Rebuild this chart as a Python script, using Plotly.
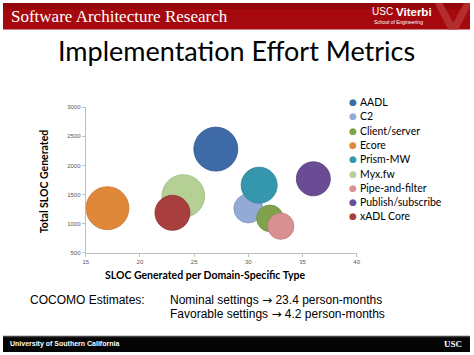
import plotly.graph_objects as go

W, H = 474, 355

series_names = ["AADL", "C2", "Client/server", "Ecore", "Prism-MW", "Myx.fw",
                "Pipe-and-filter", "Publish/subscribe", "xADL Core"]
sloc_per_type = [27, 30, 32, 17, 31, 24, 33, 36, 23]
total_sloc = [2280, 1260, 1090, 1265, 1660, 1475, 955, 1770, 1185]
bubble_size = [194, 84, 71, 185, 130, 182, 69, 116, 123]
colors = ["#3E6BA8", "#93AAD5", "#7FA24A", "#E0883A", "#3597AE", "#B5D095",
          "#D99092", "#6A4C95", "#A83E3E"]
line_colors = ["#335A8E", "#7F95BE", "#6C8C3D", "#C67530", "#2B8197", "#9DB87E",
               "#C27C7E", "#573D7D", "#8F3333"]

x_ticks = [15, 20, 25, 30, 35, 40]
y_ticks = [500, 1000, 1500, 2000, 2500, 3000]

def px(x):
    return x / W

def py(y):
    return 1 - y / H

fig = go.Figure()
max_d = 44
sizeref = 2.0 * max(bubble_size) / (max_d ** 2)
for i, name in enumerate(series_names):
    fig.add_trace(go.Scatter(
        x=[sloc_per_type[i]], y=[total_sloc[i]], mode="markers", name=name,
        marker=dict(size=[bubble_size[i]], sizemode="area", sizeref=sizeref,
                    color=colors[i], opacity=1,
                    line=dict(color=line_colors[i], width=0.8)),
        showlegend=False, hoverinfo="skip"))

tickfont = dict(family="Liberation Sans", size=6, color="#595959")
fig.update_layout(
    width=W, height=H, margin=dict(l=0, r=0, t=0, b=0),
    paper_bgcolor="white", plot_bgcolor="white",
    xaxis=dict(domain=[px(84), px(359)], range=[15, 40], tickvals=x_ticks,
               showgrid=False, zeroline=False, showline=True, linecolor="#BFBFBF",
               linewidth=1, ticks="outside", ticklen=3, tickcolor="#BFBFBF",
               tickfont=tickfont, anchor="y"),
    yaxis=dict(domain=[py(254), py(106)], range=[500, 3000], tickvals=y_ticks,
               showgrid=False, zeroline=False, showline=True, linecolor="#BFBFBF",
               linewidth=1, ticks="outside", ticklen=3, tickcolor="#BFBFBF",
               tickfont=tickfont, anchor="x"),
)

shapes = []
# header band
shapes.append(dict(type="rect", xref="paper", yref="paper", x0=0, x1=1, y0=py(27), y1=1,
                   fillcolor="#A5090E", line=dict(width=0), layer="below"))
shapes.append(dict(type="rect", xref="paper", yref="paper", x0=0, x1=1, y0=py(6), y1=1,
                   fillcolor="#930609", line=dict(width=0), layer="below"))
shapes.append(dict(type="path", xref="paper", yref="paper",
                   path=f"M {px(438)} {py(0)} L {px(452)} {py(27)} L {px(462)} {py(27)} L {px(474)} {py(4)} L {px(474)} {py(0)} L {px(468)} {py(0)} L {px(457)} {py(20)} L {px(446)} {py(0)} Z",
                   fillcolor="#B32C2E", line=dict(width=0), layer="below"))
# footer band
shapes.append(dict(type="rect", xref="paper", yref="paper", x0=0, x1=1, y0=0, y1=py(339),
                   fillcolor="#050505", line=dict(width=0), layer="below"))
shapes.append(dict(type="rect", xref="paper", yref="paper", x0=0, x1=1, y0=py(340), y1=py(338.5),
                   fillcolor="#444444", line=dict(width=0), layer="below"))

annotations = []
def ann(text, x, y, size, color="black", family="Lato", xanchor="left", yanchor="middle", textangle=0):
    annotations.append(dict(text=text, x=px(x), y=py(y), xref="paper", yref="paper",
                            showarrow=False, xanchor=xanchor, yanchor=yanchor,
                            textangle=textangle,
                            font=dict(size=size, color=color, family=family)))

arrow = '<span style="font-family:DejaVu Sans;font-size:12px">\u2192</span>'

ann("Software Architecture Research", 6, 13.5, 17, "white", "Liberation Serif")
ann("USC", 373, 9, 10, "white", "Liberation Sans")
ann("<b>Viterbi</b>", 397, 9, 11.5, "white", "Liberation Sans")
ann("School of Engineering", 375, 19.5, 5, "white", "Liberation Sans")
ann("Implementation Effort Metrics", 237, 48.5, 27, "black", "Lato", xanchor="center")
ann("<b>SLOC Generated per Domain-Specific Type</b>", 206, 276.5, 10.5, "black", "Lato", xanchor="center")
ann("<b>Total SLOC Generated</b>", 42, 181, 10.5, "black", "Lato", xanchor="center", textangle=-90)
ann("COCOMO Estimates:", 25, 302, 12, "black", "Liberation Sans")
ann(f"Nominal settings {arrow} 23.4 person-months", 167, 302, 12, "black", "Liberation Sans")
ann(f"Favorable settings {arrow} 4.2 person-months", 167, 316.5, 12, "black", "Liberation Sans")
ann("<b>University of Southern California</b>", 5, 347, 7, "white", "Liberation Sans")
ann("<b>USC</b>", 468, 347, 9, "white", "Liberation Serif", xanchor="right")

# legend
for i, name in enumerate(series_names):
    yy = 100.7 + i * 14.55
    ann(f'<span style="color:{colors[i]}">\u25cf</span>', 349.5, yy, 9, colors[i], "DejaVu Sans")
    ann(name, 360, yy, 10.5, "black", "Lato")

fig.update_layout(shapes=shapes, annotations=annotations)
fig.write_html("out.html")
